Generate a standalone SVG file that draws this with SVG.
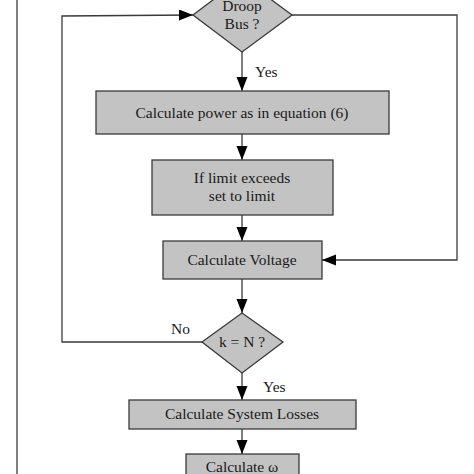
<svg xmlns="http://www.w3.org/2000/svg" width="474" height="474" viewBox="0 0 474 474">
<style>
.n{fill:#c3c3c3;stroke:#3a3a3a;stroke-width:1.3}
.c{fill:none;stroke:#3a3a3a;stroke-width:1.3}
.t{font-family:"Liberation Serif",serif;font-size:15.5px;fill:#1a1a1a;text-anchor:middle}
.l{font-family:"Liberation Serif",serif;font-size:15.5px;fill:#1a1a1a}
</style>
<defs>
<marker id="a" markerUnits="userSpaceOnUse" markerWidth="15" markerHeight="12" refX="14" refY="5.5" orient="auto">
<path d="M0,0 L14,5.5 L0,11 z" fill="#000"/>
</marker>
</defs>
<rect width="474" height="474" fill="#fff"/>
<g id="connectors">
<line class="c" x1="17" y1="0" x2="17" y2="474"/>
<line class="c" x1="242" y1="52" x2="242" y2="91" marker-end="url(#a)"/>
<line class="c" x1="242" y1="134" x2="242" y2="160" marker-end="url(#a)"/>
<line class="c" x1="242" y1="215" x2="242" y2="241" marker-end="url(#a)"/>
<line class="c" x1="242" y1="279" x2="242" y2="313" marker-end="url(#a)"/>
<line class="c" x1="242" y1="373" x2="242" y2="400" marker-end="url(#a)"/>
<line class="c" x1="242" y1="429" x2="242" y2="454" marker-end="url(#a)"/>
<polyline class="c" points="292,15 457,15 457,260 322,260" marker-end="url(#a)"/>
<polyline class="c" points="202,342 62,342 62,16 193,15" marker-end="url(#a)"/>
<text class="l" x="255" y="77">Yes</text>
<text class="l" x="171" y="334">No</text>
<text class="l" x="263" y="392">Yes</text>
</g>
<g id="droop">
<polygon class="n" points="242,-22 292,15 242,52 193,15"/>
<text class="t" x="242" y="11">Droop</text>
<text class="t" x="242" y="29">Bus ?</text>
</g>
<g id="power">
<rect class="n" x="96" y="91" width="293" height="43"/>
<text class="t" x="242" y="118">Calculate power as in equation (6)</text>
</g>
<g id="limit">
<rect class="n" x="152" y="160" width="181" height="55"/>
<text class="t" x="242" y="183">If limit exceeds</text>
<text class="t" x="242" y="201">set to limit</text>
</g>
<g id="voltage">
<rect class="n" x="163" y="241" width="159" height="38"/>
<text class="t" x="242" y="265">Calculate Voltage</text>
</g>
<g id="kn">
<polygon class="n" points="242,313 283,342 242,373 202,342"/>
<text class="t" x="242" y="347">k = N ?</text>
</g>
<g id="losses">
<rect class="n" x="129" y="400" width="227" height="29"/>
<text class="t" x="242" y="419">Calculate System Losses</text>
</g>
<g id="omega">
<rect class="n" x="186" y="454" width="113" height="30"/>
<text class="t" x="242" y="472">Calculate ω</text>
</g>
</svg>
